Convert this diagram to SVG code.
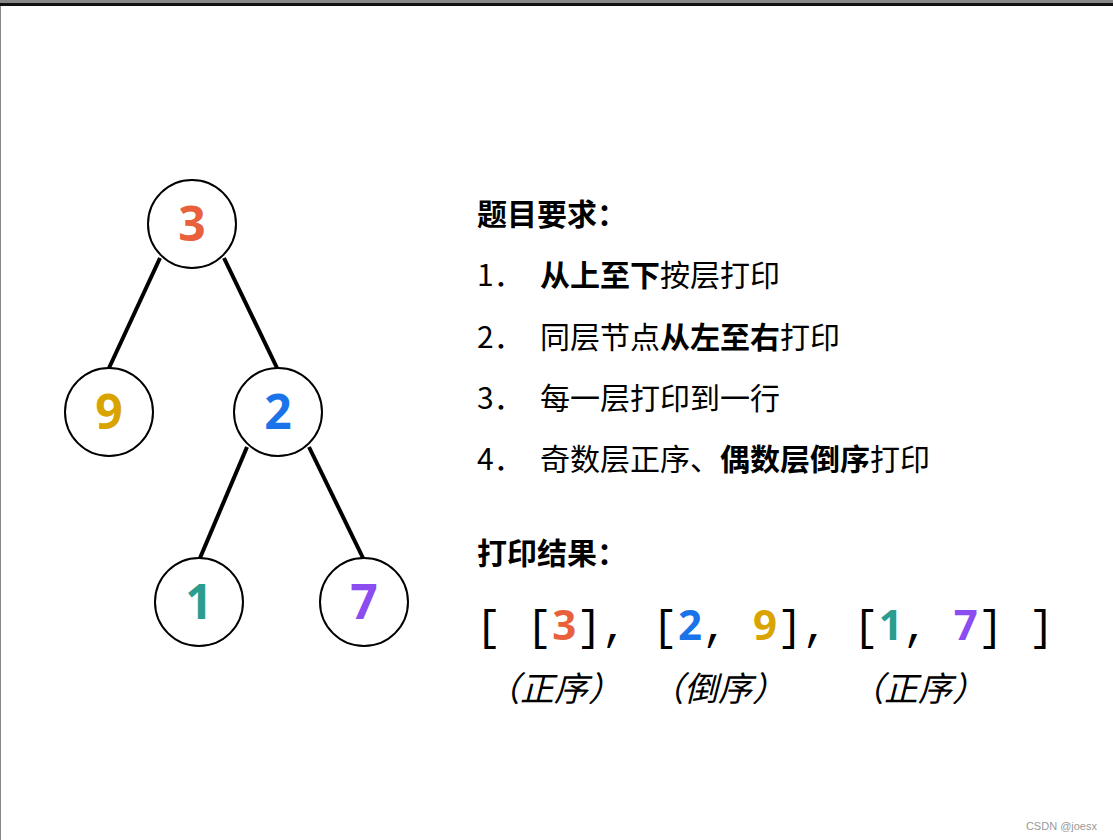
<svg xmlns="http://www.w3.org/2000/svg" width="1113" height="840" viewBox="0 0 1113 840">
<style>
.n{fill:#fff;stroke:#000;stroke-width:2}
.d{font-family:"Open Sans","Liberation Sans",sans-serif;font-weight:bold;font-size:48px;text-anchor:middle}
.e{stroke:#000;stroke-width:4}
.t{font-family:"Noto Sans CJK SC",sans-serif;font-size:30px;fill:#000}
.b{font-weight:bold}
.m{font-family:"Liberation Mono","Noto Sans CJK SC",monospace;font-size:42px}
.i{font-family:"Noto Sans CJK SC",sans-serif;font-size:34px;font-style:italic}
.k{font-weight:bold;font-family:"Open Sans",sans-serif}
</style>
<rect width="1113" height="840" fill="#fff"/>
<rect width="1113" height="3" fill="#888"/>
<rect y="3" width="1113" height="3" fill="#111"/>
<line x1="0.5" y1="6" x2="0.5" y2="840" stroke="#888"/>
<g id="edges">
<line class="e" x1="160" y1="258" x2="109" y2="368"/>
<line class="e" x1="224" y1="258" x2="278" y2="370"/>
<line class="e" x1="247" y1="447" x2="200" y2="558"/>
<line class="e" x1="309" y1="447" x2="363" y2="558"/>
</g>
<g id="n3"><circle class="n" cx="192" cy="224" r="44"/><text class="d" x="192" y="241" fill="#e8603c">3</text></g>
<g id="n9"><circle class="n" cx="109" cy="412" r="44"/><text class="d" x="109" y="429" fill="#d9a400">9</text></g>
<g id="n2"><circle class="n" cx="278" cy="412" r="44"/><text class="d" x="278" y="429" fill="#1a73e8">2</text></g>
<g id="n1"><circle class="n" cx="199" cy="602" r="44"/><text class="d" x="199" y="619" fill="#2a9d8f">1</text></g>
<g id="n7"><circle class="n" cx="364" cy="602" r="44"/><text class="d" x="364" y="619" fill="#8b4cf0">7</text></g>
<g id="text">
<text class="t b" x="477" y="225">题目要求：</text>
<text class="t" x="477" y="286">1．</text><text class="t" x="540" y="286"><tspan class="b">从上至下</tspan>按层打印</text>
<text class="t" x="477" y="348">2．</text><text class="t" x="540" y="348">同层节点<tspan class="b">从左至右</tspan>打印</text>
<text class="t" x="477" y="409">3．</text><text class="t" x="540" y="409">每一层打印到一行</text>
<text class="t" x="477" y="470">4．</text><text class="t" x="540" y="470">奇数层正序、<tspan class="b">偶数层倒序</tspan>打印</text>
<text class="t b" x="477" y="564">打印结果：</text>
<text class="m" x="476" y="640" textLength="578" lengthAdjust="spacing">[ [<tspan fill="#e8603c" class="k">3</tspan>], [<tspan fill="#1a73e8" class="k">2</tspan>, <tspan fill="#d9a400" class="k">9</tspan>], [<tspan fill="#2a9d8f" class="k">1</tspan>, <tspan fill="#8b4cf0" class="k">7</tspan>] ]</text>
<text class="i" x="486" y="701">（正序）</text>
<text class="i" x="650" y="701">（倒序）</text>
<text class="i" x="850" y="701">（正序）</text>
<text x="1097" y="830" font-family="Liberation Sans,sans-serif" font-size="11" fill="#999" text-anchor="end">CSDN @joesx</text>
</g>
</svg>
